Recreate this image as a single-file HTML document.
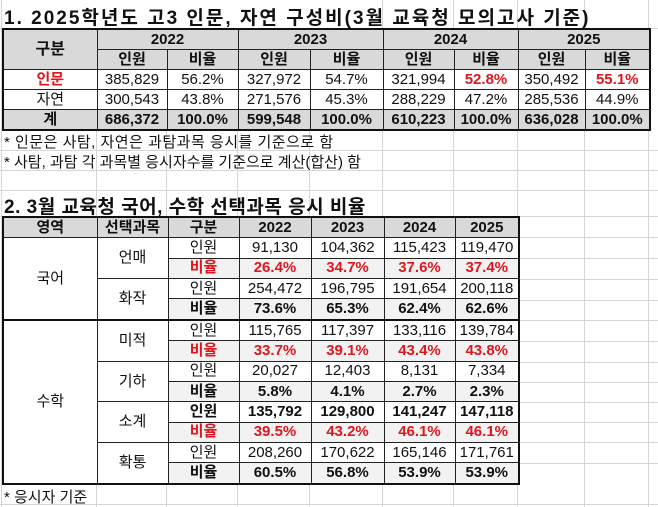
<!DOCTYPE html>
<html><head><meta charset="utf-8"><style>
body{margin:0;width:658px;height:507px;background:#fff;overflow:hidden;position:relative;font-family:"Liberation Sans","Noto Sans CJK KR","NanumGothic",sans-serif;color:#111}
.g{position:absolute;background:#d6d6d6}
.t{position:absolute;font-weight:bold;font-size:19px;white-space:nowrap}
.n{position:absolute;font-size:15px;white-space:nowrap}
table{position:absolute;border-collapse:collapse;table-layout:fixed;font-size:15px;background:#fff}
td{border:1px solid #222;text-align:center;padding:0;height:19px;line-height:19px;white-space:nowrap;overflow:hidden}
#t2 td{height:auto;line-height:18px}
.h{background:#d9d9d9;font-weight:bold}
.s{background:#f2f2f2;font-weight:bold}
.r{color:#e0161f;font-weight:bold}
.b{font-weight:bold}
.tk{border-top:2px solid #111}
</style></head><body>
<div>
<div class="g" style="left:0;top:28px;width:658px;height:1px"></div>
<div class="g" style="left:0;top:150px;width:658px;height:1px"></div>
<div class="g" style="left:0;top:170px;width:658px;height:1px"></div>
<div class="g" style="left:0;top:190px;width:658px;height:1px"></div>
<div class="g" style="left:0;top:216px;width:658px;height:1px"></div>
<div class="g" style="left:517px;top:237px;width:141px;height:1px"></div>
<div class="g" style="left:517px;top:258px;width:141px;height:1px"></div>
<div class="g" style="left:517px;top:279px;width:141px;height:1px"></div>
<div class="g" style="left:517px;top:300px;width:141px;height:1px"></div>
<div class="g" style="left:517px;top:320px;width:141px;height:1px"></div>
<div class="g" style="left:517px;top:341px;width:141px;height:1px"></div>
<div class="g" style="left:517px;top:362px;width:141px;height:1px"></div>
<div class="g" style="left:517px;top:382px;width:141px;height:1px"></div>
<div class="g" style="left:517px;top:402px;width:141px;height:1px"></div>
<div class="g" style="left:517px;top:422px;width:141px;height:1px"></div>
<div class="g" style="left:517px;top:442px;width:141px;height:1px"></div>
<div class="g" style="left:517px;top:463px;width:141px;height:1px"></div>
<div class="g" style="left:0;top:504px;width:658px;height:1px"></div>
<div class="g" style="left:1px;top:0;width:1px;height:507px"></div>
<div class="g" style="left:96px;top:130px;width:1px;height:87px"></div>
<div class="g" style="left:166px;top:130px;width:1px;height:87px"></div>
<div class="g" style="left:237px;top:130px;width:1px;height:87px"></div>
<div class="g" style="left:309px;top:130px;width:1px;height:87px"></div>
<div class="g" style="left:382px;top:0;width:1px;height:217px"></div>
<div class="g" style="left:453px;top:0;width:1px;height:217px"></div>
<div class="g" style="left:517px;top:0;width:1px;height:507px"></div>
<div class="g" style="left:584px;top:0;width:1px;height:507px"></div>
<div class="g" style="left:648px;top:0;width:1px;height:507px"></div>
<div class="g" style="left:96px;top:484px;width:1px;height:23px"></div>
<div class="g" style="left:166px;top:484px;width:1px;height:23px"></div>
<div class="g" style="left:237px;top:484px;width:1px;height:23px"></div>
<div class="g" style="left:309px;top:484px;width:1px;height:23px"></div>
<div class="g" style="left:382px;top:484px;width:1px;height:23px"></div>
<div class="g" style="left:453px;top:484px;width:1px;height:23px"></div>
</div>

<div class="t" style="left:4px;top:3px;letter-spacing:2px">1. 2025학년도 고3 인문, 자연 구성비(3월 교육청 모의고사 기준)</div>

<table style="left:2px;top:28px;width:647px;border:2px solid #111">
<colgroup><col style="width:94px"><col style="width:70px"><col style="width:71px"><col style="width:72px"><col style="width:73px"><col style="width:71px"><col style="width:64px"><col style="width:67px"><col style="width:65px"></colgroup>
<tr><td class="h" rowspan="2" style="font-size:16px">구분</td><td class="h" colspan="2">2022</td><td class="h" colspan="2">2023</td><td class="h" colspan="2">2024</td><td class="h" colspan="2">2025</td></tr>
<tr><td class="h">인원</td><td class="h">비율</td><td class="h">인원</td><td class="h">비율</td><td class="h">인원</td><td class="h">비율</td><td class="h">인원</td><td class="h">비율</td></tr>
<tr><td class="r">인문</td><td>385,829</td><td>56.2%</td><td>327,972</td><td>54.7%</td><td>321,994</td><td class="r">52.8%</td><td>350,492</td><td class="r">55.1%</td></tr>
<tr><td>자연</td><td>300,543</td><td>43.8%</td><td>271,576</td><td>45.3%</td><td>288,229</td><td>47.2%</td><td>285,536</td><td>44.9%</td></tr>
<tr><td class="h">계</td><td class="h">686,372</td><td class="h">100.0%</td><td class="h">599,548</td><td class="h">100.0%</td><td class="h">610,223</td><td class="h">100.0%</td><td class="h">636,028</td><td class="h">100.0%</td></tr>
</table>

<div class="n" style="left:4px;top:131px;letter-spacing:0.5px">* 인문은 사탐, 자연은 과탐과목 응시를 기준으로 함</div>
<div class="n" style="left:4px;top:151px">* 사탐, 과탐 각 과목별 응시자수를 기준으로 계산(합산) 함</div>

<div class="t" style="left:4px;top:192px;letter-spacing:0.5px">2. 3월 교육청 국어, 수학 선택과목 응시 비율</div>

<table id="t2" style="left:2px;top:216px;width:516px;height:269px;border:2px solid #111">
<colgroup><col style="width:94px"><col style="width:71px"><col style="width:71px"><col style="width:72px"><col style="width:73px"><col style="width:71px"><col style="width:64px"></colgroup>
<tr><td class="h">영역</td><td class="h">선택과목</td><td class="h">구분</td><td class="h">2022</td><td class="h">2023</td><td class="h">2024</td><td class="h">2025</td></tr>
<tr><td rowspan="4">국어</td><td rowspan="2">언매</td><td>인원</td><td>91,130</td><td>104,362</td><td>115,423</td><td>119,470</td></tr>
<tr><td class="s r">비율</td><td class="s r">26.4%</td><td class="s r">34.7%</td><td class="s r">37.6%</td><td class="s r">37.4%</td></tr>
<tr><td rowspan="2">화작</td><td>인원</td><td>254,472</td><td>196,795</td><td>191,654</td><td>200,118</td></tr>
<tr><td class="s">비율</td><td class="s">73.6%</td><td class="s">65.3%</td><td class="s">62.4%</td><td class="s">62.6%</td></tr>
<tr><td rowspan="8" class="tk">수학</td><td rowspan="2" class="tk">미적</td><td class="tk">인원</td><td class="tk">115,765</td><td class="tk">117,397</td><td class="tk">133,116</td><td class="tk">139,784</td></tr>
<tr><td class="s r">비율</td><td class="s r">33.7%</td><td class="s r">39.1%</td><td class="s r">43.4%</td><td class="s r">43.8%</td></tr>
<tr><td rowspan="2">기하</td><td>인원</td><td>20,027</td><td>12,403</td><td>8,131</td><td>7,334</td></tr>
<tr><td class="s">비율</td><td class="s">5.8%</td><td class="s">4.1%</td><td class="s">2.7%</td><td class="s">2.3%</td></tr>
<tr><td rowspan="2">소계</td><td class="b">인원</td><td class="b">135,792</td><td class="b">129,800</td><td class="b">141,247</td><td class="b">147,118</td></tr>
<tr><td class="s r">비율</td><td class="s r">39.5%</td><td class="s r">43.2%</td><td class="s r">46.1%</td><td class="s r">46.1%</td></tr>
<tr><td rowspan="2">확통</td><td>인원</td><td>208,260</td><td>170,622</td><td>165,146</td><td>171,761</td></tr>
<tr><td class="s">비율</td><td class="s">60.5%</td><td class="s">56.8%</td><td class="s">53.9%</td><td class="s">53.9%</td></tr>
</table>

<div class="n" style="left:4px;top:486px">* 응시자 기준</div>
</body></html>
